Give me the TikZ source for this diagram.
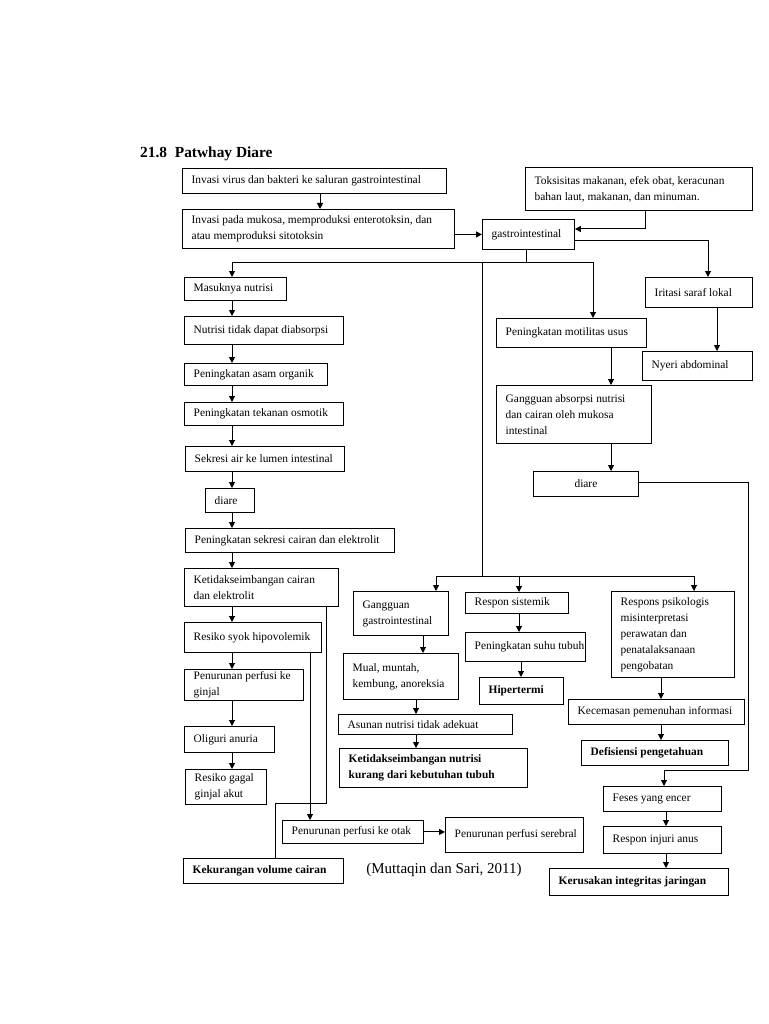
\documentclass[tikz,border=0pt]{standalone}
\usepackage{fontspec}
\setmainfont{Liberation Serif}
\usetikzlibrary{arrows.meta}
\tikzset{
  box/.style={draw, line width=0.9pt, inner sep=0pt},
  bbox/.style={draw, line width=1.3pt, inner sep=0pt},
  txt/.style={anchor=west, align=left, inner sep=0pt, font=\fontsize{11.4}{16}\selectfont},
  btxt/.style={anchor=west, align=left, inner sep=0pt, font=\bfseries\fontsize{11.4}{16}\selectfont},
  arr/.style={line width=1pt, -{Triangle[length=6pt,width=6pt]}},
  ln/.style={line width=1pt},
}
\newcommand\mkbox[8]{%
  \pgfmathsetmacro\bw{#6-#4}\pgfmathsetmacro\bh{#7-#5}%
  \node[#1, minimum width=\bw pt, minimum height=\bh pt, anchor=north west] (#3) at (#4,#5) {};
  \node[#2] (#3t) at ([xshift=9.5pt]#3.west) {#8};}
\newcommand\bx[6]{\mkbox{box}{txt}{#1}{#2}{#3}{#4}{#5}{#6}}
\newcommand\bbx[6]{\mkbox{bbox}{btxt}{#1}{#2}{#3}{#4}{#5}{#6}}
\begin{document}
\begin{tikzpicture}[x=1pt,y=-1pt]
\useasboundingbox (0,0) rectangle (768,1024);
\fill[white] (0,0) rectangle (768,1024);
% title
\node[anchor=west, inner sep=0pt, font=\bfseries\fontsize{15.4}{18}\selectfont] (title) at (140,154) {21.8\ \ Patwhay Diare};
% top
\bx{inv1}{182}{168}{446}{193}{Invasi virus dan bakteri ke saluran gastrointestinal}
\bx{inv2}{182}{209}{454}{248}{Invasi pada mukosa, memproduksi enterotoksin, dan\\atau memproduksi sitotoksin}
\bx{tox}{525}{167}{752}{210}{Toksisitas makanan, efek obat, keracunan\\bahan laut, makanan, dan minuman.}
\bx{gast}{482}{219}{574}{249}{gastrointestinal}
\bx{irit}{645}{277}{752}{307}{Iritasi saraf lokal}
\bx{nyeri}{642}{351}{752}{380}{Nyeri abdominal}
\bx{motil}{496}{318}{646}{347}{Peningkatan motilitas usus}
\bx{gabs}{496}{385}{651}{443}{Gangguan absorpsi nutrisi\\dan cairan oleh mukosa\\intestinal}
\node[box, minimum width=105pt, minimum height=25pt, anchor=north west] (diareR) at (533,471) {};
\node[txt, anchor=center] (diareRt) at (diareR.center) {diare};
% left column
\bx{masuk}{184}{277}{286}{300}{Masuknya nutrisi}
\bx{nutr}{184}{316}{343}{344}{Nutrisi tidak dapat diabsorpsi}
\bx{asam}{184}{363}{327}{385}{Peningkatan asam organik}
\bx{tek}{184}{402}{343}{425}{Peningkatan tekanan osmotik}
\bx{sekr}{185}{446}{344}{471}{Sekresi air ke lumen intestinal}
\bx{diareL}{205}{488}{254}{512}{diare}
\bx{peng}{185}{528}{394}{552}{Peningkatan sekresi cairan dan elektrolit}
\bx{ket}{184}{568}{338}{606}{Ketidakseimbangan cairan\\dan elektrolit}
\bx{syok}{184}{622}{321}{652}{Resiko syok hipovolemik}
\bx{ginjal}{184}{669}{303}{700}{Penurunan perfusi ke\\ginjal}
\bx{olig}{184}{726}{274}{752}{Oliguri anuria}
\bx{gagal}{185}{769}{266}{804}{Resiko gagal\\ginjal akut}
\bbx{kek}{183}{858}{343}{883}{Kekurangan volume cairan}
\bx{otak}{282}{820}{423}{843}{Penurunan perfusi ke otak}
\bx{sereb}{445}{817}{583}{852}{Penurunan perfusi serebral}
% middle
\bx{ggi}{353}{591}{448}{635}{Gangguan\\gastrointestinal}
\bx{resp}{465}{592}{568}{613}{Respon sistemik}
\bx{suhu}{465}{632}{585}{661}{Peningkatan suhu tubuh}
\bbx{hiper}{479}{677}{563}{704}{Hipertermi}
\bx{mual}{343}{653}{458}{699}{Mual, muntah,\\kembung, anoreksia}
\bx{asun}{338}{714}{512}{734}{Asunan nutrisi tidak adekuat}
\bbx{ketn}{339}{748}{527}{787}{Ketidakseimbangan nutrisi\\kurang dari kebutuhan tubuh}
% right
\bx{psi}{611}{591}{734}{677}{Respons psikologis\\misinterpretasi\\perawatan dan\\penatalaksanaan\\pengobatan}
\bx{cem}{568}{699}{744}{724}{Kecemasan pemenuhan informasi}
\bbx{def}{581}{740}{728}{765}{Defisiensi pengetahuan}
\bx{feses}{603}{786}{721}{811}{Feses yang encer}
\bx{injuri}{603}{826}{721}{853}{Respon injuri anus}
\bbx{kerus}{549}{868}{728}{895}{Kerusakan integritas jaringan}
% citation
\node[inner sep=0pt, font=\fontsize{15}{18}\selectfont] (cite) at (444,870) {(Muttaqin dan Sari, 2011)};
% coordinates
\coordinate (jg) at (526,262);
\coordinate (j1) at (232,262);
\coordinate (j2) at (593,262);
\coordinate (j3) at (482,262);
\coordinate (k0) at (482,576);
\coordinate (k1) at (436,576);
\coordinate (k2) at (519,576);
\coordinate (k3) at (694,576);
\coordinate (cl) at (232,0);
\coordinate (m1) at (326,803);
\coordinate (m2) at (275,803);
\coordinate (n1) at (748,482);
\coordinate (n2) at (748,770);
\coordinate (n3) at (664,770);
% connectors top
\draw[arr] (inv1.south -| 320,0) -- (inv2.north -| 320,0);
\draw[arr] (inv2.east |- gast.west) -- (gast.west);
\draw[arr] (tox.south -| 645,0) |- (gast.east |- 0,229);
\draw[arr] (gast.east |- 0,240) -| (irit.north -| 708,0);
\draw[arr] (irit.south -| 717,0) -- (nyeri.north -| 717,0);
\draw[ln] (gast.south -| jg) -- (jg);
\draw[ln] (j1) -- (j2);
\draw[arr] (j1) -- (masuk.north -| j1);
\draw[arr] (j2) -- (motil.north -| j2);
\draw[ln] (j3) -- (k0);
\draw[ln] (k1) -- (k3);
\draw[arr] (k1) -- (ggi.north -| k1);
\draw[arr] (k2) -- (resp.north -| k2);
\draw[arr] (k3) -- (psi.north -| k3);
% left chain
\foreach \a/\b in {masuk/nutr, nutr/asam, asam/tek, tek/sekr, sekr/diareL, diareL/peng, peng/ket, ket/syok, syok/ginjal, ginjal/olig, olig/gagal}
  \draw[arr] (\a.south -| cl) -- (\b.north -| cl);
\draw[ln] (ket.south -| m1) -- (m1) -- (m2) -- (kek.north -| m2);
\draw[arr] (syok.south -| 310,0) -- (otak.north -| 310,0);
\draw[arr] (otak.east) -- (otak.east -| sereb.west);
% middle-right chains
\draw[arr] (motil.south -| 611,0) -- (gabs.north -| 611,0);
\draw[arr] (gabs.south -| 611,0) -- (diareR.north -| 611,0);
\draw[ln] (diareR.east |- n1) -- (n1) -- (n2) -- (n3);
\draw[arr] (n3) -- (feses.north -| n3);
\draw[arr] (ggi.south -| 423,0) -- (mual.north -| 423,0);
\draw[arr] (mual.south -| 416,0) -- (asun.north -| 416,0);
\draw[arr] (asun.south -| 416,0) -- (ketn.north -| 416,0);
\draw[arr] (resp.south -| 519,0) -- (suhu.north -| 519,0);
\draw[arr] (suhu.south -| 521,0) -- (hiper.north -| 521,0);
\draw[arr] (psi.south -| 661,0) -- (cem.north -| 661,0);
\draw[arr] (cem.south -| 661,0) -- (def.north -| 661,0);
\draw[arr] (feses.south -| 666,0) -- (injuri.north -| 666,0);
\draw[arr] (injuri.south -| 666,0) -- (kerus.north -| 666,0);
\end{tikzpicture}
\end{document}
